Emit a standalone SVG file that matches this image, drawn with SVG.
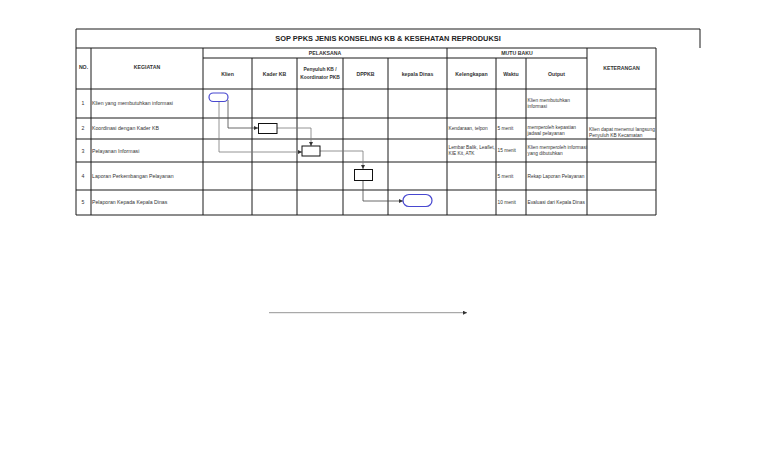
<svg xmlns="http://www.w3.org/2000/svg" width="768" height="466" viewBox="0 0 768 466">
<style>
.grid{stroke:#1a1a1a;stroke-width:1;fill:none}
.t{font-family:"Liberation Sans",Arial,sans-serif;fill:#333}
.h{font-size:5.2px;font-weight:bold;text-anchor:middle}
.h2{font-size:4.9px}
.title{font-size:7.4px;font-weight:bold;text-anchor:middle;fill:#222}
.b{font-size:5.2px}
.s{font-size:4.8px}
.c{text-anchor:middle}
.pill{fill:#fff;stroke:#4848d0;stroke-width:1.2}
.box{fill:#fff;stroke:#111;stroke-width:1}
.conn{fill:none;stroke:#7a7a7a;stroke-width:0.8}
.dark{stroke:#444}
</style>
<defs>
<marker id="arr" viewBox="0 0 6 6" refX="6" refY="3" markerWidth="4" markerHeight="4" orient="auto" markerUnits="userSpaceOnUse">
<path d="M0,0 L6,3 L0,6 z" fill="#333"/>
</marker>
</defs>
<rect width="768" height="466" fill="#fff"/>
<g id="table" class="grid">
<path d="M76,29 H700 M700,29 V48 M76,29 V215 M76,48 H656 M656,48 V215 M76,215 H656 M76,89 H656 M76,118 H656 M76,139 H656 M76,162 H656 M76,190 H656 M203,58 H587"/>
<path d="M91,48 V215 M203,48 V215 M252,58 V215 M297,58 V215 M343,58 V215 M388,58 V215 M447,48 V215 M496,58 V215 M526,58 V215 M587,48 V215"/>
</g>
<g id="headers">
<text class="t title" x="388" y="41">SOP PPKS JENIS KONSELING KB &amp; KESEHATAN REPRODUKSI</text>
<text class="t h" x="83.5" y="69">NO.</text>
<text class="t h" x="147" y="69">KEGIATAN</text>
<text class="t h" x="325" y="55">PELAKSANA</text>
<text class="t h" x="517" y="55">MUTU BAKU</text>
<text class="t h" x="621.5" y="70">KETERANGAN</text>
<text class="t h" x="227.5" y="75.5">Klien</text>
<text class="t h" x="274.5" y="75.5">Kader KB</text>
<text class="t h h2" x="320" y="70.5">Penyuluh KB /</text>
<text class="t h h2" x="320" y="78.5">Koordinator PKB</text>
<text class="t h" x="365.5" y="75.5">DPPKB</text>
<text class="t h" x="417.5" y="75.5">kepala Dinas</text>
<text class="t h" x="471.5" y="75.5">Kelengkapan</text>
<text class="t h" x="511" y="75.5">Waktu</text>
<text class="t h" x="556.5" y="75.5">Output</text>
</g>
<g id="rows">
<text class="t b c" x="83" y="105">1</text>
<text class="t b" x="92" y="105">Klien yang membutuhkan informasi</text>
<text class="t s" x="527.5" y="101.5">Klien membutuhkan</text>
<text class="t s" x="527.5" y="108">informasi</text>
<text class="t b c" x="83" y="130">2</text>
<text class="t b" x="92" y="130">Koordinasi dengan Kader KB</text>
<text class="t s" x="448.5" y="130">Kendaraan, telpon</text>
<text class="t s" x="497.5" y="130">5 menit</text>
<text class="t s" x="527.5" y="129">memperoleh kepastian</text>
<text class="t s" x="527.5" y="135">jadwal pelayanan</text>
<text class="t s" x="589" y="131.3">Klien dapat menemui langsung</text>
<text class="t s" x="589" y="137">Penyuluh KB Kecamatan</text>
<text class="t b c" x="83" y="152.5">3</text>
<text class="t b" x="92" y="152.5">Pelayanan Informasi</text>
<text class="t s" x="448.5" y="148.5">Lembar Balik, Leaflet,</text>
<text class="t s" x="448.5" y="154.5">KIE Kit, ATK</text>
<text class="t s" x="497.5" y="152">15 menit</text>
<text class="t s" x="527.5" y="148.5">Klien memperoleh informasi</text>
<text class="t s" x="527.5" y="154.5">yang dibutuhkan</text>
<text class="t b c" x="83" y="177.5">4</text>
<text class="t b" x="92" y="177.5">Laporan Perkembangan Pelayanan</text>
<text class="t s" x="497.5" y="177.5">5 menit</text>
<text class="t s" x="527.5" y="177.5">Rekap Laporan Pelayanan</text>
<text class="t b c" x="83" y="203.5">5</text>
<text class="t b" x="92" y="203.5">Pelaporan Kepada Kepala Dinas</text>
<text class="t s" x="497.5" y="203.5">10 menit</text>
<text class="t s" x="527.5" y="203.5">Evaluasi dari Kepala Dinas</text>
</g>
<g id="connectors">
<path class="conn dark" d="M228,100 V128 H258" marker-end="url(#arr)"/>
<path class="conn" d="M219,101.5 V152 H302" marker-end="url(#arr)"/>
<path class="conn" d="M277,128 H311 V146" marker-end="url(#arr)"/>
<path class="conn" d="M320,151 H363 V169" marker-end="url(#arr)"/>
<path class="conn dark" d="M363,180.5 V201 H403" marker-end="url(#arr)"/>
<path class="conn" d="M269,312.7 H467" marker-end="url(#arr)"/>
</g>
<g id="node-klien"><rect class="pill" x="209" y="93" width="19" height="8.5" rx="4.2"/></g>
<g id="node-kader"><rect class="box" x="258.5" y="123.5" width="18.5" height="10"/></g>
<g id="node-penyuluh"><rect class="box" x="302" y="146" width="18" height="10"/></g>
<g id="node-dppkb"><rect class="box" x="354.5" y="169.5" width="18" height="11"/></g>
<g id="node-kepala"><rect class="pill" x="403" y="194.5" width="29" height="12" rx="6"/></g>
</svg>
